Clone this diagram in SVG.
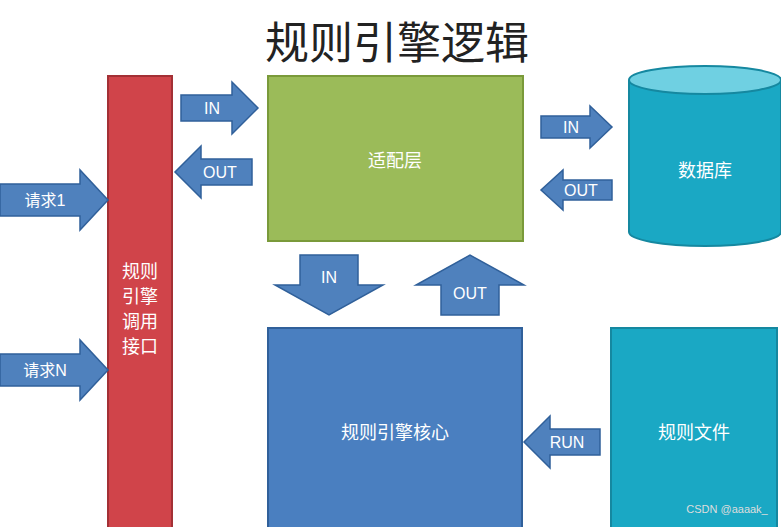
<svg xmlns="http://www.w3.org/2000/svg" width="781" height="527" viewBox="0 0 781 527">
<style>
.t{font-family:"Noto Sans CJK SC","Liberation Sans",sans-serif;fill:#fff;text-anchor:middle;dominant-baseline:central;font-size:18px}
.a{fill:#4f81bd;stroke:#30609a;stroke-width:1.5}
.al{font-family:"Liberation Sans","Noto Sans CJK SC",sans-serif;fill:#fff;text-anchor:middle;dominant-baseline:central;font-size:16px}
</style>
<rect width="781" height="527" fill="#fff"/>
<text x="397" y="40" font-family="Noto Sans CJK SC,sans-serif" font-size="44" text-anchor="middle" dominant-baseline="central" fill="#222">规则引擎逻辑</text>
<g id="api"><rect x="108" y="76" width="64" height="460" fill="#d0444a" stroke="#a33035" stroke-width="2"/>
<text class="t" x="140" y="270">规则</text><text class="t" x="140" y="295">引擎</text><text class="t" x="140" y="320">调用</text><text class="t" x="140" y="345">接口</text></g>
<g id="adapter"><rect x="268" y="76" width="255" height="165" fill="#9bbb59" stroke="#7a9a3a" stroke-width="2"/><text class="t" x="395" y="159">适配层</text></g>
<g id="db"><path d="M629 80 V232 A76 14 0 0 0 781 232 V80" fill="#1aa8c4" stroke="#1588a0" stroke-width="2"/>
<ellipse cx="705" cy="80" rx="76" ry="14" fill="#6fd0e2" stroke="#1588a0" stroke-width="2"/><text class="t" x="705" y="169">数据库</text></g>
<g id="core"><rect x="268" y="328" width="254" height="210" fill="#4a7fc0" stroke="#30609a" stroke-width="2"/><text class="t" x="395" y="431">规则引擎核心</text></g>
<g id="rules"><rect x="611" y="328" width="166" height="210" fill="#1aa8c4" stroke="#1588a0" stroke-width="2"/><text class="t" x="694" y="431">规则文件</text></g>
<g id="connectors">
<path class="a" d="M181 95H232V82L258 108L232 134V121H181Z"/><text class="al" x="212" y="108">IN</text>
<path class="a" d="M252 159H201V146L175 172L201 198V185H252Z"/><text class="al" x="220" y="172">OUT</text>
<path class="a" d="M0 184H80V170L108 200L80 230V216H0Z"/><text class="al" x="45" y="200">请求1</text>
<path class="a" d="M0 354H80V340L108 370L80 400V386H0Z"/><text class="al" x="45" y="370">请求N</text>
<path class="a" d="M541 116H590V106L612 127L590 148V138H541Z"/><text class="al" x="571" y="127">IN</text>
<path class="a" d="M612 180H563V170L541 190L563 210V200H612Z"/><text class="al" x="581" y="190">OUT</text>
<path class="a" d="M300 255H358V285H383L329 315L275 285H300Z"/><text class="al" x="329" y="277">IN</text>
<path class="a" d="M441 315H499V285H524L470 255L416 285H441Z"/><text class="al" x="470" y="293">OUT</text>
<path class="a" d="M600 429H550V416L524 442L550 468V455H600Z"/><text class="al" x="567" y="442">RUN</text>
</g>
<text x="727" y="513" font-family="Liberation Sans,sans-serif" font-size="11" fill="#ddd" text-anchor="middle">CSDN @aaaak_</text>
</svg>
